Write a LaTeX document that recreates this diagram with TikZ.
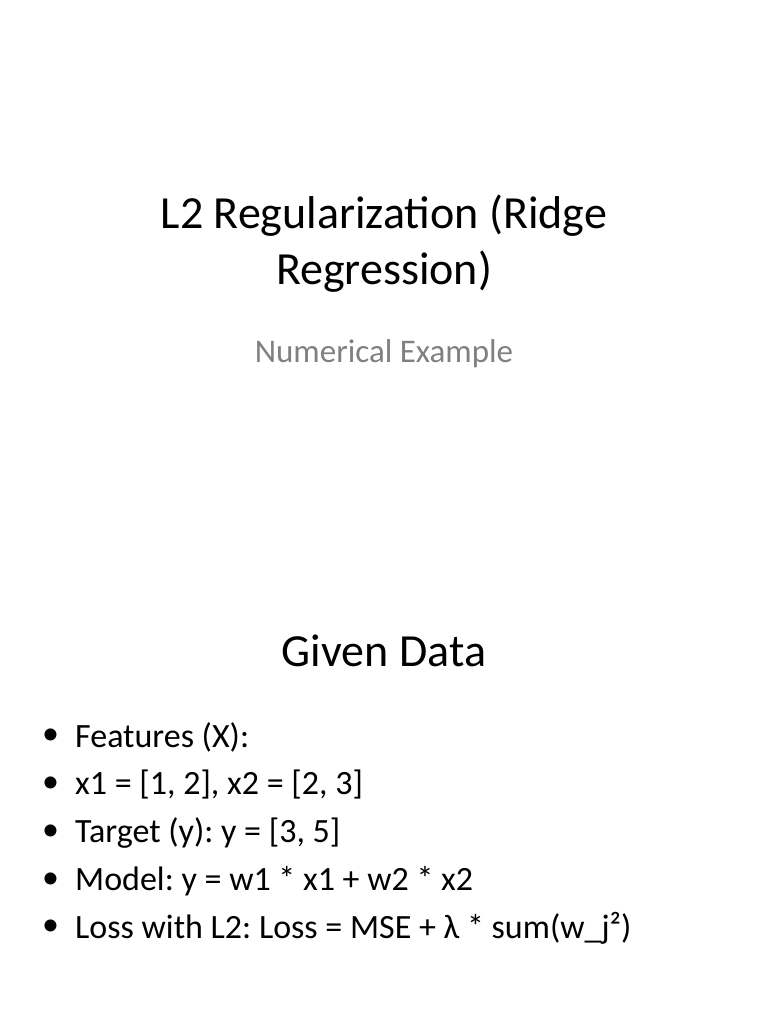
\documentclass[tikz,border=0pt]{standalone}
\usepackage{fontspec}
\setmainfont{Carlito}
\frenchspacing
\begin{document}
\begin{tikzpicture}[x=1pt,y=1pt,
  title/.style={font=\fontsize{46}{56}\selectfont, align=center, text=black},
  sub/.style={font=\fontsize{33}{36}\selectfont, text=gray},
  item/.style={font=\fontsize{34}{36}\selectfont, anchor=west, inner sep=0pt}]
\useasboundingbox[fill=white] (0,0) rectangle (768,1024);
\node[title] (t) at (384,780) {L2 Regularization (Ridge\\Regression)};
\node[sub] (s) at (384,670) {Numerical Example};
\node[title] (g) at (384,373) {Given Data};
\foreach \y/\txt [count=\i] in {287/{Features (X):},239/{x1 = [1, 2], x2 = [2, 3]},191/{Target (y): y = [3, 5]},143/{Model: y = w1 * x1 + w2 * x2},96/{Loss with L2: Loss = MSE + λ * sum(w\_j²)}}{
  \node[item] (b\i) at (42,\y) {•};
  \node[item] (i\i) at (75,\y) {\txt};
}
\end{tikzpicture}
\end{document}
